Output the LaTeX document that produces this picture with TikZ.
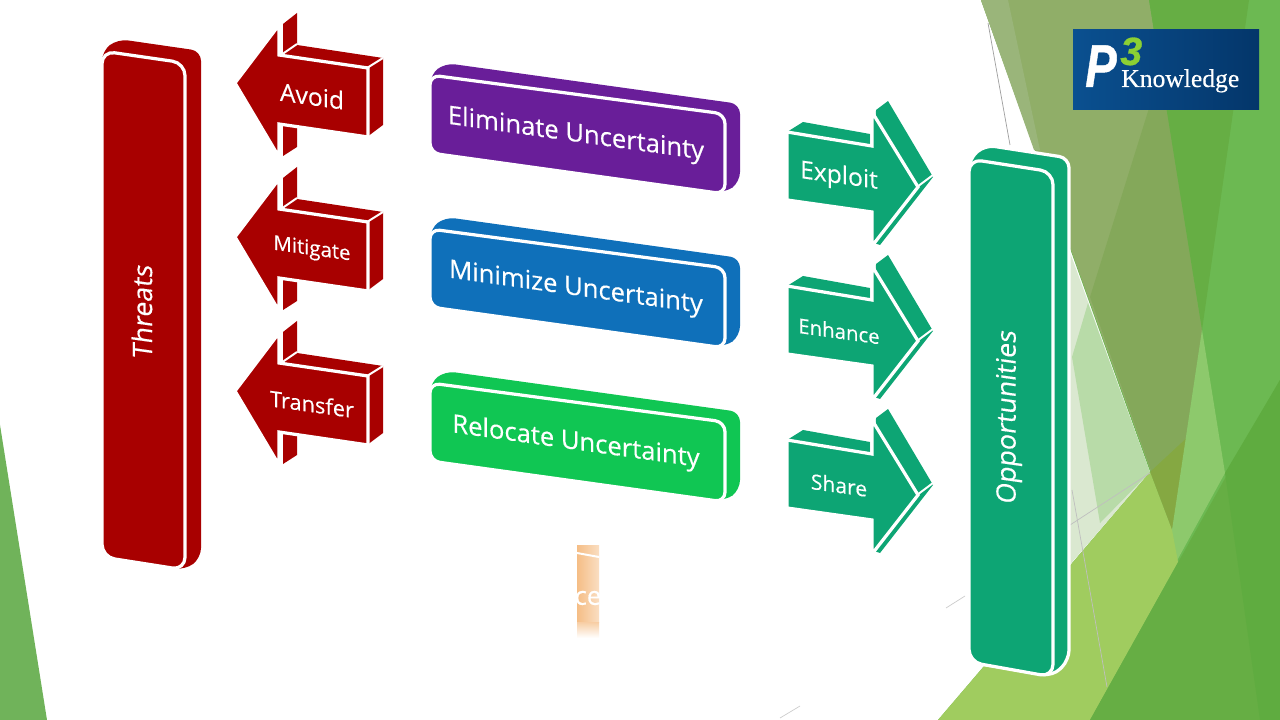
\documentclass[tikz,border=0pt]{standalone}
\usepackage{fontspec}
\setmainfont{Open Sans}[FakeBold=0.35]
\newfontfamily\logosans{Liberation Sans}[FakeBold=0.8]
\newfontfamily\logoserif{Liberation Serif}[FakeBold=0.4]
\definecolor{threatred}{HTML}{A80000}
\definecolor{oppgreen}{HTML}{0DA574}
\definecolor{elimpurple}{HTML}{691E99}
\definecolor{miniblue}{HTML}{0F70BA}
\definecolor{relogreen}{HTML}{10C653}
\definecolor{bgolivelight}{HTML}{9AB57A}
\definecolor{bgolive}{HTML}{90AE68}
\definecolor{bgolivedark}{HTML}{84A85A}
\definecolor{bgolivemoss}{HTML}{85A842}
\definecolor{bggreen}{HTML}{6CB952}
\definecolor{bggreendark}{HTML}{66AE44}
\definecolor{bggreendeep}{HTML}{5FAC40}
\definecolor{bglime}{HTML}{A0CC5F}
\definecolor{bgmint}{HTML}{8DC96C}
\definecolor{bgpale}{HTML}{DAE8D0}
\definecolor{bgpalemid}{HTML}{B8DBA8}
\definecolor{bgleft}{HTML}{70B35A}
\definecolor{logoblue}{HTML}{0A5090}
\definecolor{logonavy}{HTML}{04366A}
\definecolor{logolime}{HTML}{8CD033}
\definecolor{fadeorange}{HTML}{F4B678}
\tikzset{
  face/.style={draw=white, line width=2.3pt, line join=round},
  edgeline/.style={draw=white, line width=1.4pt},
  hairline/.style={draw=black!38, line width=0.5pt},
  facetext/.style={text=white, yslant=-0.14, transform shape, inner sep=0pt},
  bartext/.style={text=white, yslant=-0.14, rotate=90, transform shape, inner sep=0pt}
}
\begin{document}
\begin{tikzpicture}[x=0.025cm, y=-0.025cm]
\useasboundingbox (0,0) rectangle (1280,720);

% Background
\fill[white] (0,0) rectangle (1280,720);
\fill[bgleft] (0,425) -- (47,720) -- (0,720) -- cycle;
\fill[bggreen] (981,0) -- (1280,0) -- (1280,720) -- (938,720) -- (1150,472) -- cycle;
\fill[bgolive] (981,0) -- (1149,0) -- (1202,330) -- (1172,530) -- cycle;
\fill[bgolivelight] (981,0) -- (1008,0) -- (1040,150) -- (1034,150) -- cycle;
\fill[bgolivedark] (1090,297) -- (1150,105) -- (1167,110) -- (1202,330) -- (1172,530) -- cycle;
\fill[bgolivemoss] (1150,472) -- (1192,433) -- (1172,530) -- cycle;
\fill[bggreendark] (1149,0) -- (1249,0) -- (1202,330) -- cycle;
\fill[bgpale] (1060,225) -- (1150,472) -- (1060,576) -- cycle;
\fill[bgpalemid] (1088,303) -- (1072,357) -- (1100,523) -- (1150,472) -- cycle;
\fill[bgmint] (1202,330) -- (1225,473) -- (1168,577) -- (1172,530) -- cycle;
\fill[bglime] (938,720) -- (1150,472) -- (1172,530) -- (1178,562) -- (1090,720) -- cycle;
\fill[bggreendark] (1090,720) -- (1280,380) -- (1280,720) -- cycle;
\fill[bggreendeep] (1225,473) -- (1280,380) -- (1280,720) -- (1260,720) -- cycle;

% Thin lines
\draw[hairline] (988,23) -- (1010,145);
\draw[hairline, draw=black!25] (1072,490) -- (1107,687);
\draw[hairline, draw=black!25] (1070,525) -- (1150,473);
\draw[hairline, draw=black!20] (946,608) -- (965,596);
\draw[hairline, draw=black!20] (780,718) -- (800,706);

% Logo
\shade[left color=logoblue, right color=logonavy] (1073,30) rectangle (1259,110);
\node[text=white, inner sep=0pt, anchor=base west, xscale=0.78, transform shape] (logop) at (1085,87)
  {\logosans\bfseries\itshape\fontsize{43}{43}\selectfont P};
\node[text=logolime, inner sep=0pt, anchor=base west] (logothree) at (1120,65)
  {\logosans\bfseries\itshape\fontsize{28}{28}\selectfont 3};
\node[text=white, inner sep=0pt, anchor=base west] (logoname) at (1121,87)
  {\logoserif\fontsize{18.2}{18.2}\selectfont Knowledge};

% Threats bar
\fill[threatred, rounded corners=7pt] (102,51) -- (118,39) -- (201,51) -- (201,558) -- (185,570) -- (102,557) -- cycle;
\draw[face, fill=threatred, rounded corners=9pt] (102,51) -- (185,63) -- (185,570) -- (102,557) -- cycle;
\node[bartext, font=\fontsize{19}{23}\selectfont] (threats) at (142,311) {Threats};

% Opportunities bar
\draw[face, fill=oppgreen, rounded corners=7pt] (969,159) -- (985,145) -- (1069,158) -- (1069,660) -- (1053,676) -- (969,662) -- cycle;
\draw[face, fill=oppgreen, rounded corners=9pt] (969,159) -- (1053,172) -- (1053,677) -- (969,662) -- cycle;
\node[bartext, font=\fontsize{19}{23}\selectfont] (opportunities) at (1009,417) {Opportunities};

% Threat arrows
\foreach \dy/\lab/\sz in {0/Avoid/17.5,154/Mitigate/14.5,308/Transfer/15.5}
{
  \begin{scope}[shift={(0,\dy)}]
    \fill[threatred] (283,24) -- (297,13) -- (297,45) -- (383,58) -- (383,125) -- (367,137)
      -- (297,125) -- (297,147) -- (283,156) -- cycle;
    \draw[edgeline] (281,55) -- (297,44);
    \draw[edgeline] (367,68) -- (383,58);
    \draw[face, fill=threatred, line join=miter] (235,83) -- (279,25) -- (279,55) -- (368,68) -- (368,137)
      -- (279,124) -- (279,157) -- cycle;
    \node[facetext, font=\fontsize{\sz}{\sz}\selectfont] (\lab) at (312,96) {\lab};
  \end{scope}
}

% Uncertainty boxes
\foreach \dy/\col/\lab in {0/elimpurple/Eliminate,154/miniblue/Minimize,308/relogreen/Relocate}
{
  \begin{scope}[shift={(0,\dy)}]
    \fill[\col, rounded corners=7pt] (430,75) -- (445,63) -- (740,104) -- (740,182) -- (725,193) -- (430,153) -- cycle;
    \draw[face, fill=\col, rounded corners=7pt] (430,75) -- (725,114) -- (725,194) -- (430,153) -- cycle;
    \node[facetext, font=\fontsize{18.2}{22}\selectfont] (\lab) at (576,135) {\lab{} Uncertainty};
  \end{scope}
}

% Fading box
\shade[left color=fadeorange!90, right color=fadeorange!45] (577,545) rectangle (599,622);
\shade[top color=fadeorange!68, bottom color=white] (577,622) rectangle (599,638);
\draw[edgeline] (577,553) -- (599,557);
\begin{scope}
  \clip (577,580) rectangle (600,615);
  \node[text=white, inner sep=0pt, font=\fontsize{18.2}{22}\selectfont] (fadetext) at (588,598) {ce};
\end{scope}

% Opportunity arrows
\foreach \dy/\lab/\sz in {0/Exploit/17.5,154/Enhance/14.5,308/Share/15}
{
  \begin{scope}[shift={(0,\dy)}]
    \fill[oppgreen] (787,132) -- (803,122) -- (870,134) -- (870,160) -- (800,160) -- cycle;
    \fill[oppgreen] (876,110) -- (888,101) -- (933,177) -- (880,245) -- (874,243) -- cycle;
    \draw[edgeline] (917,187) -- (933,175);
    \draw[face, fill=oppgreen, line join=miter] (787,132) -- (872,146) -- (872,112) -- (918,187)
      -- (872,246) -- (872,212) -- (787,200) -- cycle;
    \node[facetext, font=\fontsize{\sz}{\sz}\selectfont] (\lab) at (839,177) {\lab};
  \end{scope}
}

\end{tikzpicture}
\end{document}
